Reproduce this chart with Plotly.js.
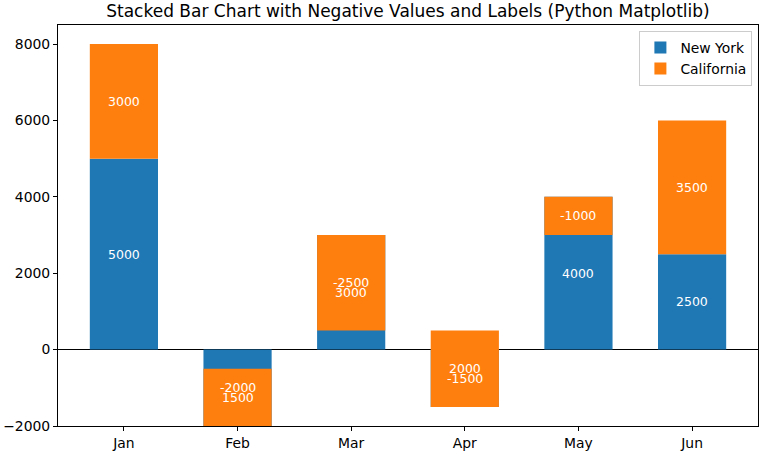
<!DOCTYPE html>
<html>
<head>
<meta charset="utf-8">
<script src="https://cdn.plot.ly/plotly-3.0.1.min.js"></script>
<style>html,body{margin:0;padding:0;background:#fff;}#chart{width:768px;height:452px;}</style>
</head>
<body>
<div id="chart"></div>
<script>
const months = ["Jan", "Feb", "Mar", "Apr", "May", "Jun"];
const newYork = [5000, -2000, 3000, -1500, 4000, 2500];
const california = [3000, 1500, -2500, 2000, -1000, 3500];
const yTicks = [-2000, 0, 2000, 4000, 6000, 8000];

const font = "DejaVu Sans, sans-serif";

const traces = [
  {
    type: "bar", name: "New York", x: months, y: newYork,
    marker: {color: "#1f77b4", line: {width: 0}}, width: 0.6,
    hoverinfo: "skip"
  },
  {
    type: "bar", name: "California", x: months, y: california, base: newYork,
    marker: {color: "#ff7f0e", line: {width: 0}}, width: 0.6,
    hoverinfo: "skip"
  }
];

const annotations = [];
months.forEach((m, i) => {
  annotations.push({x: m, y: newYork[i] / 2, text: String(newYork[i]), showarrow: false,
    font: {family: font, size: 12.5, color: "#ffffff"}, xref: "x", yref: "y"});
  annotations.push({x: m, y: newYork[i] + california[i] / 2, text: String(california[i]), showarrow: false,
    font: {family: font, size: 12.5, color: "#ffffff"}, xref: "x", yref: "y"});
});

const layout = {
  width: 768, height: 452,
  margin: {l: 58, r: 10, t: 25, b: 26, pad: 0},
  paper_bgcolor: "#ffffff", plot_bgcolor: "#ffffff",
  barmode: "overlay",
  showlegend: true,
  title: {text: "Stacked Bar Chart with Negative Values and Labels (Python Matplotlib)",
    font: {family: font, size: 17, color: "#000"}, xref: "paper", x: 0.5, xanchor: "center", y: 0.975, yanchor: "middle"},
  font: {family: font, color: "#000"},
  xaxis: {
    type: "category", range: [-0.58, 5.58],
    showline: true, linecolor: "#000", linewidth: 1, mirror: true,
    ticks: "outside", ticklen: 4, tickcolor: "#000", showgrid: false, zeroline: false,
    tickfont: {family: font, size: 13.9, color: "#000"}
  },
  yaxis: {
    range: [-2000, 8500], tickvals: yTicks, ticktext: yTicks.map(v => v < 0 ? "\u2212" + Math.abs(v) : String(v)),
    showline: true, linecolor: "#000", linewidth: 1, mirror: true,
    ticks: "outside", ticklen: 4, tickcolor: "#000", showgrid: false,
    zeroline: true, zerolinecolor: "#000", zerolinewidth: 1,
    tickfont: {family: font, size: 13.9, color: "#000"}
  },
  legend: {
    x: 0.992, y: 0.985, xanchor: "right", yanchor: "top",
    bgcolor: "rgba(255,255,255,0.8)", bordercolor: "#cccccc", borderwidth: 1,
    font: {family: font, size: 13.9, color: "#000"}, traceorder: "normal", itemwidth: 30
  },
  annotations: annotations
};

Plotly.newPlot("chart", traces, layout, {displayModeBar: false, staticPlot: true});
</script>
</body>
</html>
